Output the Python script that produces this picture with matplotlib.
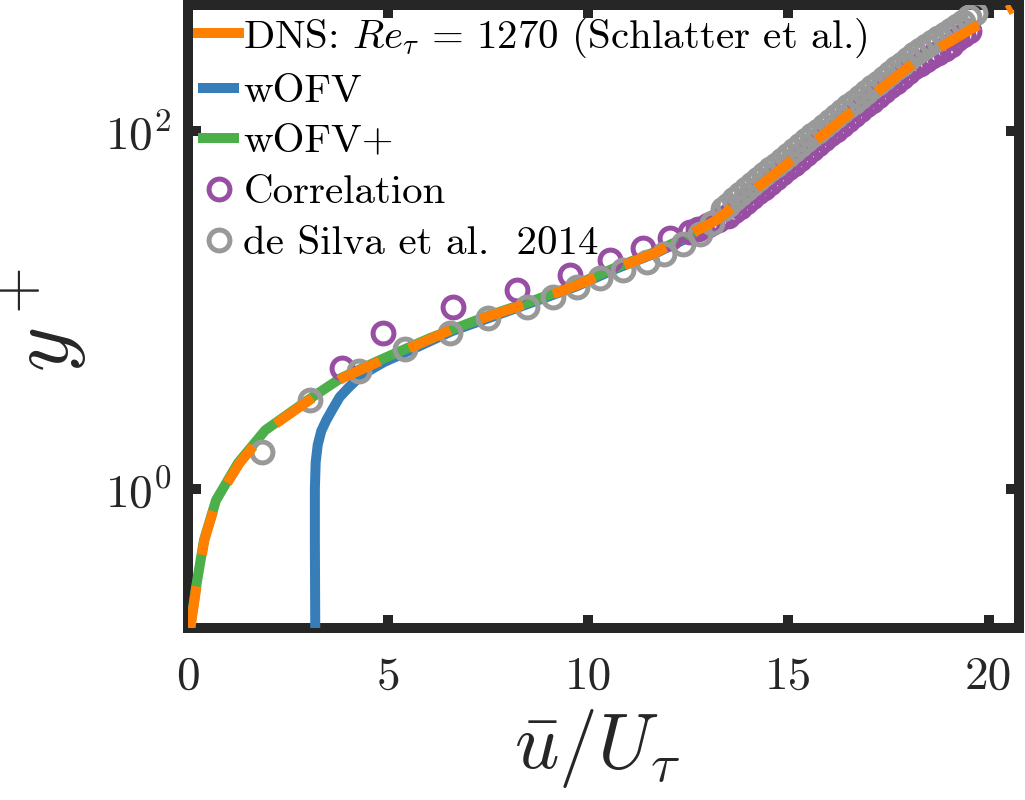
import matplotlib
matplotlib.use("Agg")
import matplotlib.pyplot as plt
from matplotlib.ticker import NullLocator

plt.rcParams['font.family'] = 'serif'
plt.rcParams['font.serif'] = ['cmr10']
plt.rcParams['mathtext.fontset'] = 'cm'
plt.rcParams['axes.unicode_minus'] = False
plt.rcParams['axes.formatter.use_mathtext'] = True

# DNS (Schlatter et al.), Re_tau = 1270
dns_u = [0.05, 0.21, 0.41, 0.71, 1.29, 1.96, 3.04, 3.86, 4.86, 6.11, 6.66, 7.61,
         8.71, 9.71, 10.71, 11.71, 13.21, 14.84, 16.54, 18.16, 19.66, 20.04, 20.59]
dns_y = [0.16, 0.28, 0.515, 0.86, 1.39, 2.12, 3.13, 4.15, 5.24, 6.95, 7.9, 9.35,
         11.3, 13.7, 17.1, 21.0, 31.8, 62, 126, 243, 382, 418, 488]

# wOFV
wofv_u = [3.18, 3.17, 3.17, 3.19, 3.24, 3.33, 3.46, 3.62, 3.79, 4.0, 4.21, 4.55,
          4.9, 5.6, 6.6, 7.7, 9.7, 10.7, 11.7, 12.9]
wofv_y = [0.16, 0.5, 1.0, 1.4, 1.75, 2.1, 2.42, 2.8, 3.25, 3.65, 4.05, 4.6,
          5.1, 6.0, 7.6, 9.3, 13.5, 17.0, 20.8, 28.0]

# wOFV+
wofvp_u = [0.04, 0.2, 0.4, 0.7, 1.25, 1.93, 3.0, 3.82, 4.8, 6.05, 7.55, 8.65,
           9.65, 10.65, 11.65, 12.9]
wofvp_y = [0.16, 0.28, 0.515, 0.86, 1.39, 2.12, 3.13, 4.15, 5.24, 6.95, 9.35, 11.3,
           13.7, 17.1, 21.0, 28.5]

# Correlation
corr_u = [3.84, 4.86, 6.61, 8.21, 9.54, 10.54, 11.36, 12.04, 12.54, 12.75, 13.0,
          13.25, 13.5, 13.65, 13.8, 13.95, 14.1, 14.25, 14.4, 14.55, 14.7, 14.85,
          15.0, 15.15, 15.3, 15.45, 15.6, 15.75, 15.9, 16.05, 16.2, 16.35, 16.5,
          16.65, 16.8, 16.95, 17.1, 17.25, 17.4, 17.55, 17.7, 17.85, 18.0, 18.15,
          18.3, 18.45, 18.6, 18.75, 18.9, 19.05, 19.2, 19.35, 19.5]
corr_y = [4.72, 7.41, 10.36, 12.9, 15.6, 19.0, 22.1, 25.2, 27.2, 28.3, 29.8,
          31.8, 33.4, 35.5, 37.8, 40.2, 42.7, 45.4, 48.3, 51.3, 54.6, 58.1,
          61.8, 65.8, 70.0, 74.5, 79.4, 84.5, 89.9, 95.7, 101.9, 108.6, 115.6,
          122.7, 130.6, 139.0, 147.6, 157.0, 166.7, 177.4, 188.4, 200.4, 212.8, 227.0,
          238.2, 250.0, 262.4, 274.8, 288.4, 302.7, 325, 343, 363]

# de Silva et al. 2014
silva_u = [1.84, 3.06, 4.26, 5.41, 6.54, 7.49, 8.46, 9.11, 9.71, 10.29, 10.86,
           11.46, 11.9, 12.36, 12.8, 13.1, 13.36, 13.5, 13.65, 13.8, 13.95, 14.1,
           14.25, 14.4, 14.55, 14.7, 14.85, 15.0, 15.15, 15.3, 15.45, 15.6, 15.75,
           15.9, 16.05, 16.2, 16.35, 16.5, 16.65, 16.8, 16.95, 17.1, 17.25, 17.4,
           17.55, 17.7, 17.85, 18.0, 18.15, 18.3, 18.45, 18.6, 18.75, 18.9, 19.05,
           19.2, 19.35, 19.5, 19.65]
silva_y = [1.60, 3.13, 4.54, 6.03, 7.41, 8.99, 10.36, 11.8, 13.4, 15.1, 16.7,
           18.5, 20.5, 23.2, 26.5, 30.5, 36.5, 38.8, 41.4, 44.3, 47.3, 50.6,
           54.0, 57.4, 61.0, 64.9, 69.0, 73.5, 78.2, 83.2, 88.5, 94.4, 100.5,
           106.9, 113.8, 121.1, 129.1, 137.4, 145.9, 155.2, 165.2, 175.4, 186.6, 198.2,
           210.9, 223.9, 238.2, 252.9, 270.4, 284.4, 299.9, 315.5, 331.9, 349.1, 368.1,
           387.3, 409.3, 433.5, 458.1]

x_ticks = [0, 5, 10, 15, 20]
y_ticks = [1, 100]
y_ticklabels = [r'$10^0$', r'$10^2$']

labels = [r'DNS: $Re_\tau \,=\, 1270$ (Schlatter et al.)', 'wOFV', 'wOFV+',
          'Correlation', 'de Silva et al.  2014']

orange = '#FF7F00'
blue = '#377EB8'
green = '#4DAF4A'
purple = '#984EA3'
gray = '#999999'
dark = '#262626'

fig = plt.figure(figsize=(10.25, 8), dpi=100)
ax = fig.add_axes([0.1834, 0.215, 0.8107, 0.7788])

lw = 7.2
h_blue, = ax.plot(wofv_u, wofv_y, color=blue, lw=lw, zorder=3, solid_capstyle='butt')
h_green, = ax.plot(wofvp_u, wofvp_y, color=green, lw=lw, zorder=4, solid_capstyle='butt')
h_corr, = ax.plot(corr_u, corr_y, 'o', ms=15, mew=3.6, mfc='none', mec=purple, zorder=5)
h_silva, = ax.plot(silva_u, silva_y, 'o', ms=15, mew=3.6, mfc='none', mec=gray, zorder=6)
h_dns, = ax.plot(dns_u, dns_y, color=orange, lw=lw, ls=(0, (4.5, 3.2)), zorder=7,
                 dash_capstyle='butt')

ax.set_yscale('log')
ax.set_xlim(0, 20.76)
ax.set_ylim(0.166, 507)
ax.set_xticks(x_ticks)
ax.set_xticklabels([str(t) for t in x_ticks])
ax.set_yticks(y_ticks)
ax.set_yticklabels(y_ticklabels)
ax.yaxis.set_minor_locator(NullLocator())
ax.xaxis.set_minor_locator(NullLocator())

for s in ax.spines.values():
    s.set_linewidth(7.2)
    s.set_color(dark)
ax.tick_params(which='major', direction='in', length=9.5, width=7.2, color=dark,
               top=True, right=True, labelsize=34, labelcolor=dark)
ax.tick_params(axis='x', pad=20)
ax.tick_params(axis='y', pad=12)

ax.set_xlabel(r'$\bar{u}/U_\tau$', fontsize=56, color=dark)
ax.xaxis.set_label_coords(0.492, -0.126)
ax.set_ylabel(r'$y^+$', fontsize=62, color=dark)
ax.yaxis.set_label_coords(-0.119, 0.494)

leg = ax.legend([h_dns, h_blue, h_green, h_corr, h_silva], labels,
                loc='upper left', frameon=False, fontsize=29.5, numpoints=1,
                handlelength=1.0, handletextpad=0.1, labelspacing=0.34,
                borderaxespad=0.0, borderpad=0.25)
for h in leg.legend_handles[:3]:
    h.set_linestyle('-')

fig.savefig('out.png', dpi=100)
